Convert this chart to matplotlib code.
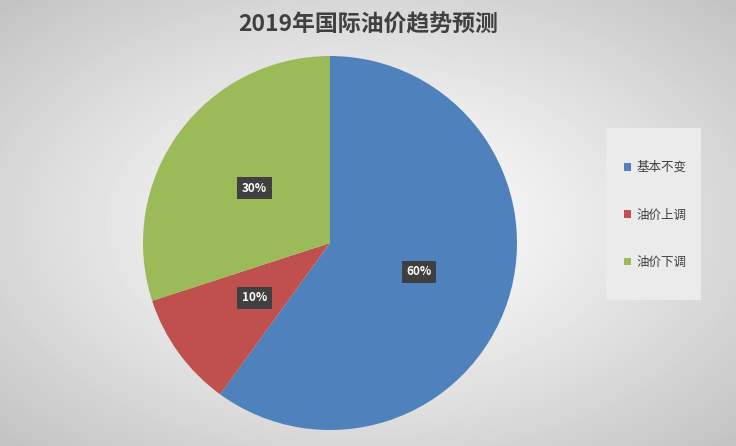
import numpy as np
import matplotlib

matplotlib.use("Agg")
import matplotlib.pyplot as plt
from matplotlib.patches import Rectangle

plt.rcParams["font.family"] = ["Noto Sans CJK SC", "DejaVu Sans"]

title = "2019年国际油价趋势预测"
categories = ["基本不变", "油价上调", "油价下调"]
shares = [60, 10, 30]
colors = ["#4f81bd", "#c0504d", "#9bbb59"]

W, H = 736, 446
fig = plt.figure(figsize=(W / 100, H / 100), dpi=100)

# radial gradient background
bg = fig.add_axes([0, 0, 1, 1], zorder=-10)
yy, xx = np.mgrid[0:H, 0:W]
r = np.sqrt(((xx - W / 2) / (W / 2)) ** 2 + ((yy - H / 2) / (H / 2)) ** 2) / np.sqrt(2)
shade = 1.0 - 0.24 * np.clip(r, 0, 1) ** 1.2
bg.imshow(shade, cmap="gray", vmin=0, vmax=1, extent=[0, 1, 0, 1], aspect="auto")
bg.set_axis_off()

# pie
cx, cy, rad = 330, H - 243, 187
ax = fig.add_axes([(cx - rad) / W, (cy - rad) / H, 2 * rad / W, 2 * rad / H])
wedges, texts, autotexts = ax.pie(
    shares, colors=colors, startangle=90, counterclock=False,
    autopct="%1.0f%%", pctdistance=0.5, radius=1.0,
    wedgeprops=dict(linewidth=0),
    textprops=dict(color="white", fontsize=8.5, fontweight="bold"),
)
for t in autotexts:
    t.set_bbox(dict(boxstyle="square,pad=0.4", fc="#404040", ec="none"))
ax.set_xlim(-1, 1)
ax.set_ylim(-1, 1)
ax.set_axis_off()

fig.text(0.5, 1 - 25 / H, title, ha="center", va="center",
         fontsize=16.5, fontweight="bold", color="#404040")

# legend
fig.patches.append(Rectangle((606 / W, 1 - 300 / H), 95 / W, 172 / H,
                             transform=fig.transFigure, fc="#ebebeb", ec="none", zorder=1))
leg = fig.legend(wedges, categories, loc="center", bbox_to_anchor=(655 / W, 1 - 215 / H),
                 frameon=False, fontsize=9, labelspacing=2.75,
                 handlelength=0.6, handleheight=0.6, handletextpad=0.4)
for t in leg.get_texts():
    t.set_color("#404040")

fig.savefig("out.png", dpi=100)
